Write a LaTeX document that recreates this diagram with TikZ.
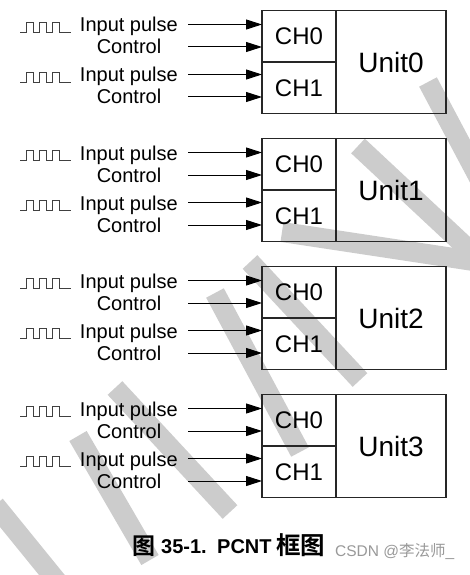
\documentclass[tikz,border=0pt]{standalone}
\usepackage{fontspec}
\setmainfont{Liberation Sans}
\newfontfamily\cjkfont{Noto Sans CJK SC}
\newfontfamily\cjkbold{Noto Sans CJK SC Bold}
\usetikzlibrary{arrows.meta}
\begin{document}
\begin{tikzpicture}[x=1pt,y=-1pt,
  wmark/.style={line width=20pt,draw=black!20},
  unitbox/.style={draw=black!85,line width=1.1pt},
  sig/.style={draw=black,line width=1pt,-{Triangle[length=16pt,width=10pt]}},
  pulse/.style={draw=black!75,line width=1pt},
  lbl/.style={font=\fontsize{20}{24}\selectfont,inner sep=0pt},
  chlbl/.style={font=\fontsize{24}{28}\selectfont,inner sep=0pt},
  unitlbl/.style={font=\fontsize{28}{32}\selectfont,inner sep=0pt},
  capcjk/.style={inner sep=0pt,anchor=base west,font=\fontsize{23}{26}\selectfont\cjkbold},
  caplat/.style={inner sep=0pt,anchor=base west,font=\fontsize{20}{24}\selectfont\bfseries}]
\useasboundingbox (0,0) rectangle (470,575);
\fill[white] (0,0) rectangle (470,575);
% watermark bands
\begin{scope}
\clip (0,0) rectangle (470,575);
\draw[wmark] (428,82) -- (480,180);
\draw[wmark] (358,146) -- (480,260);
\draw[wmark] (282,232) -- (480,262);
\draw[wmark] (250,262) -- (360,380);
\draw[wmark] (215,293) -- (300,452);
\draw[wmark] (115,388) -- (230,512);
\draw[wmark] (78,436) -- (150,560);
\draw[wmark] (-5,505) -- (60,585);
\end{scope}
% units
\foreach \u/\T in {0/10.5,1/138.5,2/266.5,3/394.5}{
  \draw[unitbox] (262,\T) rectangle (446,\T+103);
  \draw[unitbox] (336,\T) -- (336,\T+103);
  \draw[unitbox] (262,\T+51.5) -- (336,\T+51.5);
  \node[chlbl] (ch0u\u) at (299,\T+26) {CH0};
  \node[chlbl] (ch1u\u) at (299,\T+77.5) {CH1};
  \node[unitlbl] (unit\u) at (391,\T+52) {Unit\u};
  \foreach \c/\dy in {0/0,1/50}{
    \coordinate (ip\u\c) at (188,\T+14+\dy);
    \coordinate (ipe\u\c) at (262,\T+14+\dy);
    \coordinate (ct\u\c) at (188,\T+36.5+\dy);
    \coordinate (cte\u\c) at (262,\T+36.5+\dy);
    \draw[sig] (ip\u\c) -- (ipe\u\c);
    \draw[sig] (ct\u\c) -- (cte\u\c);
    \node[lbl,anchor=base east] (tin\u\c) at (178,\T+21.5+\dy) {Input pulse};
    \node[lbl,anchor=base] (tct\u\c) at (129,\T+43.5+\dy) {Control};
    \draw[pulse] (20,\T+22.3+\dy) -- (26,\T+22.3+\dy) -- (26,\T+12+\dy) -- (33,\T+12+\dy)
      -- (33,\T+22.3+\dy) -- (39,\T+22.3+\dy) -- (39,\T+12+\dy) -- (46,\T+12+\dy)
      -- (46,\T+22.3+\dy) -- (52,\T+22.3+\dy) -- (52,\T+12+\dy) -- (59,\T+12+\dy)
      -- (59,\T+22.3+\dy) -- (71,\T+22.3+\dy);
  }
}
% caption
\node[capcjk] (cap1) at (132,554) {图};
\node[caplat] (cap2) at (161,553) {35-1.};
\node[caplat] (cap3) at (217,553) {PCNT};
\node[capcjk,font=\fontsize{24.5}{28}\selectfont\cjkbold] (cap4) at (276,554.5) {框图};
\node[inner sep=0pt,anchor=base west,text=black!40] (csdn) at (335,556)
  {\fontsize{15.5}{18}\selectfont CSDN @{\cjkfont 李法师}\_};
\end{tikzpicture}
\end{document}
